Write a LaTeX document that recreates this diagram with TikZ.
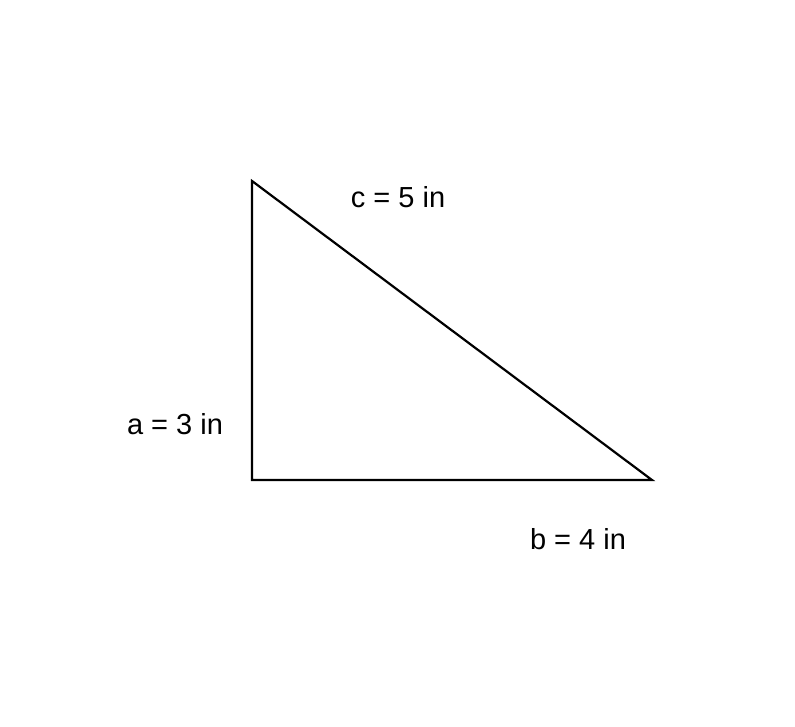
\documentclass[tikz,border=0pt]{standalone}
\usepackage{fontspec}
\setmainfont{Liberation Sans}
\begin{document}
\begin{tikzpicture}[x=1pt,y=-1pt,
  side/.style={draw=black,line width=2.2pt,line join=miter},
  lbl/.style={font=\fontsize{29}{34}\selectfont,inner sep=0pt,anchor=center}]
\useasboundingbox[fill=white] (0,0) rectangle (795,726);
\coordinate (A) at (252,181);
\coordinate (B) at (252,480);
\coordinate (C) at (652,480);
\draw[side] (A) -- (B) -- (C) -- cycle;
\node[lbl] (lc) at (398,197) {c = 5 in};
\node[lbl] (la) at (175,424) {a = 3 in};
\node[lbl] (lb) at (578,539) {b = 4 in};
\end{tikzpicture}
\end{document}
